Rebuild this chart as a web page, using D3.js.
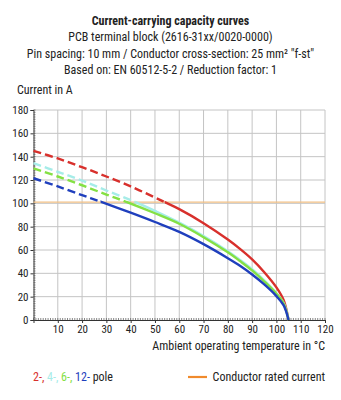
<!DOCTYPE html>
<html><head><meta charset="utf-8">
<script src="https://cdn.jsdelivr.net/npm/d3@7/dist/d3.min.js"></script>
<style>
body{margin:0;background:#fff;}
text{font-family:"Liberation Sans Narrow","Roboto Condensed","Arial Narrow",Roboto,sans-serif;fill:#222;}
</style></head><body>
<svg id="c" width="341" height="400"></svg>
<script>
const titleLines = ["Current-carrying capacity curves","PCB terminal block (2616-31xx/0020-0000)","Pin spacing: 10 mm / Conductor cross-section: 25 mm² \"f-st\"","Based on: EN 60512-5-2 / Reduction factor: 1"];
const xTicks = [10,20,30,40,50,60,70,80,90,100,110,120];
const yTicks = [0,20,40,60,80,100,120,140,160,180];
const seriesNames = ["2-pole","4-pole","6-pole","12-pole"];
const seriesColors = ["#d8302c","#a6ece8","#84e044","#1f3fbd"];
const ratedCurrent = 101;
// temperature where each curve meets the rated current (dashed above it)
const transitionT = [54, 42, 38.5, 27.6];
const temps2 = [0,10,20,30,40,50,54,60,70,80,85,90,95,100,103,105];
const vals2  = [145,138.5,131,123,114.5,105,101,95,83,69,61,52,41,28,17,0];
const temps4 = [0,10,20,30,42,50,60,70,80,85,90,95,100,103,105];
const vals4  = [134.5,127,119.5,111,101,93.5,83.5,72,59,51.5,43.5,34,23,14.5,0];
const temps6 = [0,10,20,30,38.5,50,60,70,80,85,90,95,100,103,105];
const vals6  = [130,123,115.5,107.5,101,91.5,82.5,71,58,50.5,42.5,33,22.5,14,0];
const temps12 = [0,10,20,27.6,40,50,60,70,80,85,90,95,100,103,105];
const vals12  = [121.5,114.5,107,101.5,92,84,75.5,65,53,46.5,39,30.5,20.5,12.5,0];

const seriesData = [[temps2,vals2],[temps4,vals4],[temps6,vals6],[temps12,vals12]];

const svg = d3.select("#c");
const x = d3.scaleLinear().domain([0,120]).range([33.5,325]);
const y = d3.scaleLinear().domain([0,180]).range([320,110]);

// titles
titleLines.forEach((t,i)=>{
  svg.append("text").attr("x",170.5).attr("y",25+i*16.3).attr("text-anchor","middle")
    .attr("font-size",12).attr("font-weight",i===0?"bold":"normal").text(t);
});
svg.append("text").attr("x",17).attr("y",94).attr("font-size",12).text("Current in A");

// grid
const g = svg.append("g");
g.selectAll(".gx").data(xTicks).enter().append("line")
  .attr("x1",d=>x(d)).attr("x2",d=>x(d)).attr("y1",y(0)).attr("y2",y(180))
  .attr("stroke","#c4c4c4").attr("stroke-width",1);
g.selectAll(".gy").data(yTicks.filter(d=>d>0)).enter().append("line")
  .attr("x1",x(0)).attr("x2",x(120)).attr("y1",d=>y(d)).attr("y2",d=>y(d))
  .attr("stroke","#c4c4c4").attr("stroke-width",1);

// axes
const xAxis = d3.axisBottom(x).tickValues(xTicks).tickSize(3).tickPadding(2);
const yAxis = d3.axisLeft(y).tickValues(yTicks).tickSize(3).tickPadding(2);
const gx = svg.append("g").attr("transform",`translate(0,${y(0)})`).call(xAxis);
const gy = svg.append("g").attr("transform",`translate(${x(0)},0)`).call(yAxis);
[gx,gy].forEach(a=>{
  a.select(".domain").attr("stroke","#333");
  a.selectAll(".tick line").attr("stroke","#333");
  a.selectAll(".tick text").attr("font-size",11).attr("fill","#222")
   .style("font-family",'"Liberation Sans Narrow","Roboto Condensed",Roboto,sans-serif');
});
// minor ticks
svg.append("g").selectAll("line").data(d3.range(0,181,2)).enter().append("line")
  .attr("x1",x(0)).attr("x2",x(0)+2).attr("y1",d=>y(d)).attr("y2",d=>y(d)).attr("stroke","#555").attr("stroke-width",0.7);
svg.append("g").selectAll("line").data(d3.range(0,121,1)).enter().append("line")
  .attr("x1",d=>x(d)).attr("x2",d=>x(d)).attr("y1",y(0)).attr("y2",y(0)-2).attr("stroke","#555").attr("stroke-width",0.7);

// rated current line
svg.append("line").attr("x1",x(0)).attr("x2",x(120)).attr("y1",y(ratedCurrent)).attr("y2",y(ratedCurrent))
  .attr("stroke","#f2c085").attr("stroke-width",1.4);

// curves: one smooth path per series, dashed part clipped left of the transition
const defs = svg.append("defs");
const line = d3.line().x(d=>x(d[0])).y(d=>y(d[1])).curve(d3.curveCatmullRom.alpha(0.5));
[0,1,2,3].forEach(i=>{
  const [ts,vs] = seriesData[i];
  const pts = ts.map((t,j)=>[t,vs[j]]);
  const xt = x(transitionT[i]);
  defs.append("clipPath").attr("id","cl"+i).append("rect").attr("x",0).attr("y",0).attr("width",xt).attr("height",400);
  defs.append("clipPath").attr("id","cr"+i).append("rect").attr("x",xt).attr("y",0).attr("width",341-xt).attr("height",400);
  svg.append("path").attr("d",line(pts)).attr("fill","none").attr("stroke",seriesColors[i])
    .attr("stroke-width",2.4).attr("stroke-dasharray","8,4").attr("clip-path",`url(#cl${i})`);
  svg.append("path").attr("d",line(pts)).attr("fill","none").attr("stroke",seriesColors[i])
    .attr("stroke-width",2.4).attr("clip-path",`url(#cr${i})`);
});

// x axis title
svg.append("text").attr("x",325).attr("y",350).attr("text-anchor","end").attr("font-size",12)
  .text("Ambient operating temperature in °C");

// legend
const lt = svg.append("text").attr("x",33).attr("y",381).attr("font-size",12);
const legendParts = [["2-, ",seriesColors[0]],["4-, ",seriesColors[1]],["6-, ",seriesColors[2]],["12- ",seriesColors[3]],[" pole","#222"]];
legendParts.forEach(p=>lt.append("tspan").style("fill",p[1]).text(p[0]));
svg.append("line").attr("x1",188).attr("x2",207).attr("y1",377).attr("y2",377).attr("stroke","#f08a2c").attr("stroke-width",2.2);
svg.append("text").attr("x",325).attr("y",381).attr("text-anchor","end").attr("font-size",12).text("Conductor rated current");
</script></body></html>
